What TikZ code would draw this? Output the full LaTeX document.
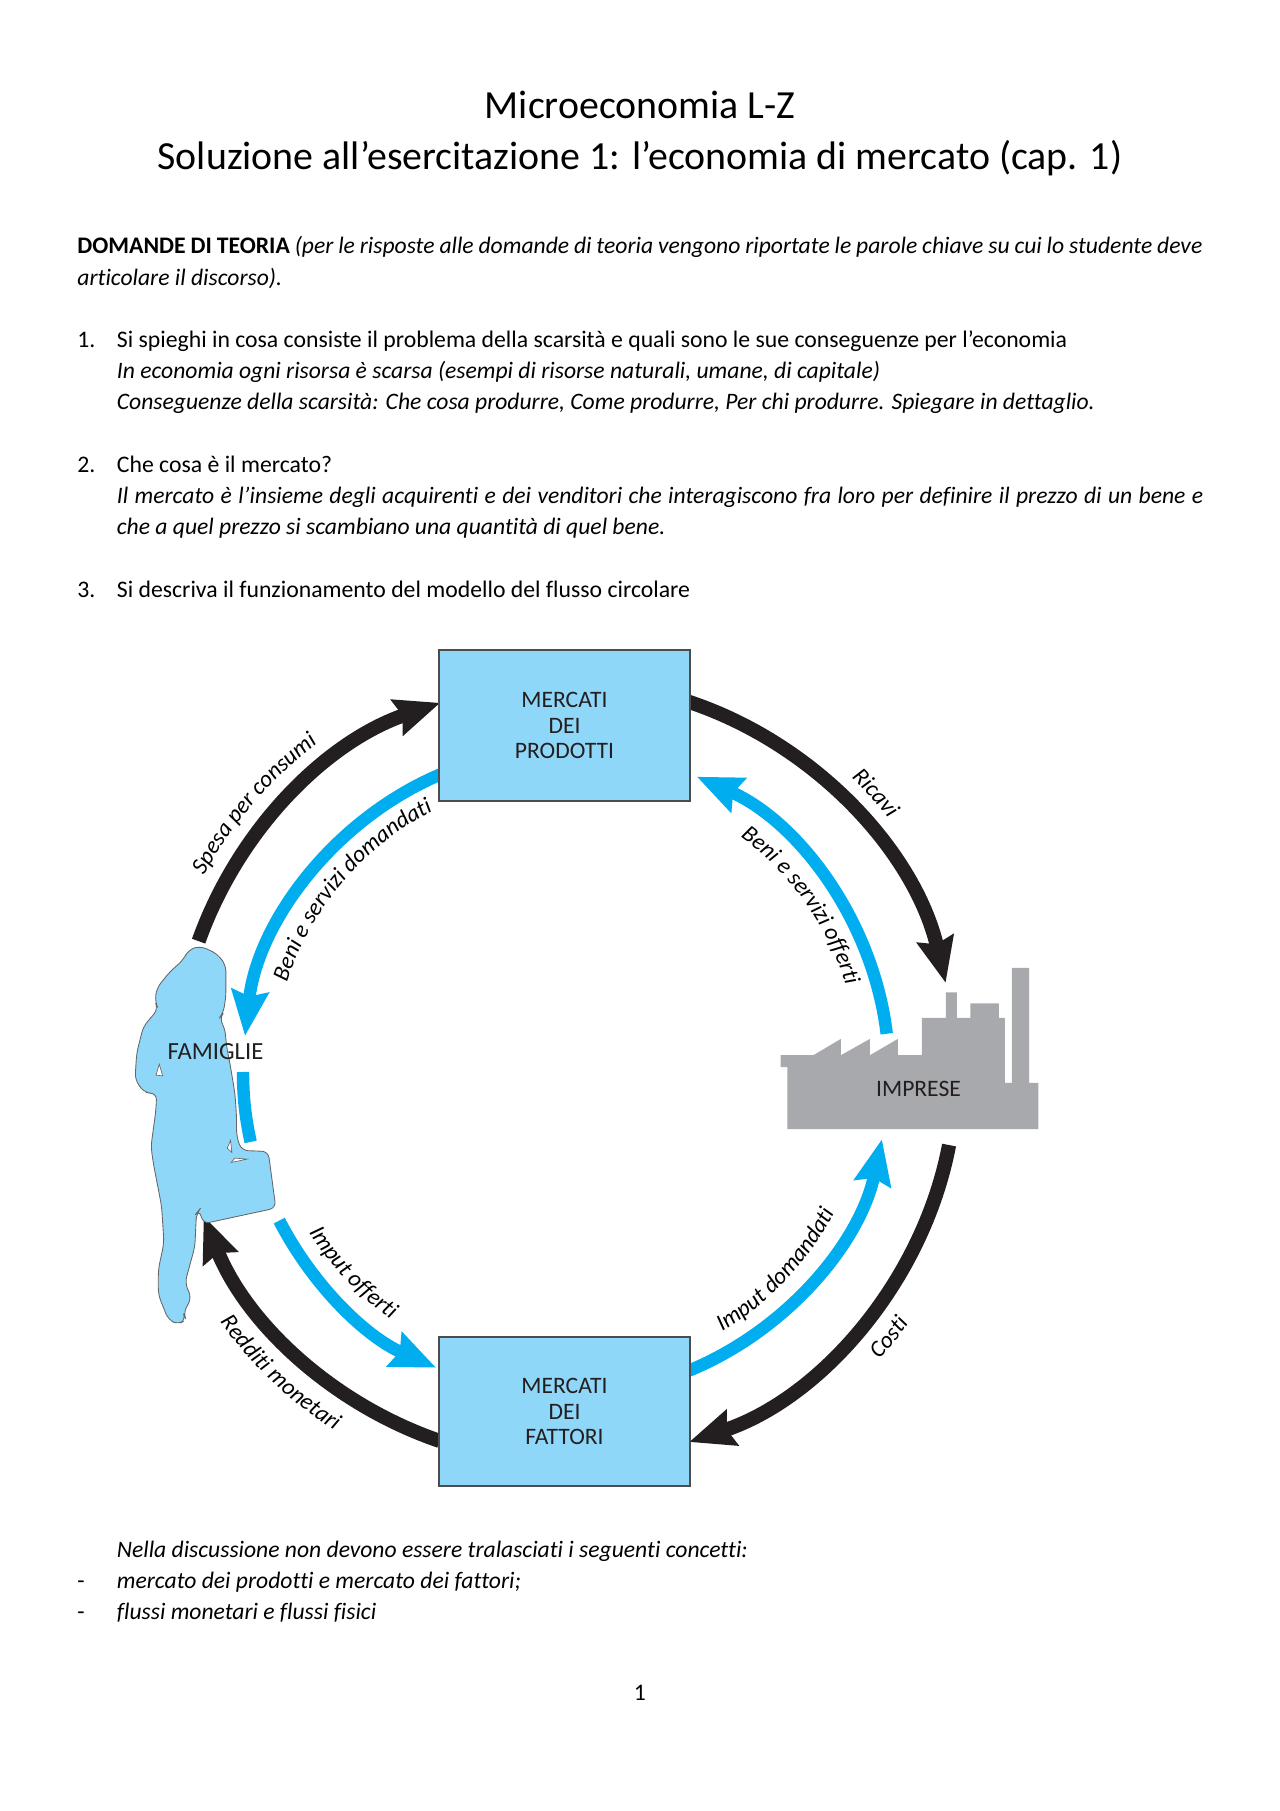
\documentclass[tikz,border=0pt]{standalone}
\usepackage{fontspec}
\setmainfont{Carlito}[Ligatures=NoCommon, ItalicFeatures={Scale=0.994}]
\usetikzlibrary{arrows.meta,calc,decorations.text}
\definecolor{azzurro}{HTML}{8FD7F9}
\definecolor{ciano}{HTML}{00AEEF}
\definecolor{nero}{HTML}{231F20}
\definecolor{grigio}{HTML}{A7A9AC}
\tikzset{
  riga/.style={anchor=base west, inner sep=0pt, font=\fontsize{11.08}{13}\selectfont},
  titolo/.style={anchor=base, inner sep=0pt, font=\fontsize{18.6}{24}\selectfont},
  mercato/.style={draw=black!70, line width=0.5pt, fill=azzurro, minimum width=251*0.4668pt, align=center, text=nero, font=\fontsize{11}{11.7}\selectfont},
  scritta/.style={inner sep=0pt, text=nero, font=\fontsize{11}{12}\selectfont},
  flussonero/.style={line width=6.6pt, draw=nero, looseness=0.9, -{Stealth[length=21pt, width=17pt, inset=2.5pt]}},
  flussoblu/.style={line width=5.8pt, draw=ciano, looseness=0.9, -{Stealth[length=21pt, width=17pt, inset=2.5pt]}},
  tratto/.style={line width=5.8pt, draw=ciano, looseness=0.9},
  sagoma/.style={fill=azzurro, draw=black!60, line width=0.4pt, rounded corners=3pt},
}
% text along the circle, clockwise or anticlockwise
\newcommand{\etichettaO}[3]{\path[decorate, decoration={text along path, text align=center, text={|\fontsize{11}{13}\selectfont\itshape|#3}}] ($(cerchio)+(#1+30:#2)$) arc[start angle=#1+30, end angle=#1-30, radius=#2];}
\newcommand{\etichettaA}[3]{\path[decorate, decoration={text along path, text align=center, text={|\fontsize{11}{13}\selectfont\itshape|#3}}] ($(cerchio)+(#1-30:#2)$) arc[start angle=#1-30, end angle=#1+30, radius=#2];}

\begin{document}
\begin{tikzpicture}[x=0.0164063cm, y=0.0164063cm]
  \useasboundingbox (0,0) rectangle (1280,1811);

  % Title
  \node[titolo] (tit1) at (640,1692) {Microeconomia L-Z};
  \node[titolo] (tit2) at (640,1641) {Soluzione all’esercitazione 1: l’economia di mercato (cap. 1)};

  % Questions
  \node[riga] (r1) at (77,1557) {\hbox to 525pt{\textbf{DOMANDE DI TEORIA} \textit{(per le risposte alle domande di teoria vengono riportate le parole chiave su cui lo studente deve}}};
  \node[riga] (r2) at (77,1525) {\textit{articolare il discorso).}};
  \node[riga] (n1) at (77,1463) {1.};
  \node[riga] (r3) at (116.5,1463) {Si spieghi in cosa consiste il problema della scarsità e quali sono le sue conseguenze per l’economia};
  \node[riga] (r4) at (116.5,1432) {\textit{In economia ogni risorsa è scarsa (esempi di risorse naturali, umane, di capitale)}};
  \node[riga] (r5) at (116.5,1401) {\textit{Conseguenze della scarsità: Che cosa produrre, Come produrre, Per chi produrre. Spiegare in dettaglio.}};
  \node[riga] (n2) at (77,1338) {2.};
  \node[riga] (r6) at (116.5,1338) {Che cosa è il mercato?};
  \node[riga] (r7) at (116.5,1307) {\hbox to 507pt{\textit{Il mercato è l’insieme degli acquirenti e dei venditori che interagiscono fra loro per definire il prezzo di un bene e}}};
  \node[riga] (r8) at (116.5,1276) {\textit{che a quel prezzo si scambiano una quantità di quel bene.}};
  \node[riga] (n3) at (77,1213) {3.};
  \node[riga] (r9) at (116.5,1213) {Si descriva il funzionamento del modello del flusso circolare};

  % Circle points
  \coordinate (cerchio) at (566,739);
  \foreach \nome/\ang/\rag in {spesaA/160.4/390, spesaB/108.8/390, ricaviA/71.7/390, ricaviB/13.2/390,
      costiA/-10.8/390, costiB/-71.6/390, redditiA/-108.9/390, redditiB/-158.3/390,
      domA/112.9/323, domB/173.6/323, trattoA/180/323, trattoB/192.5/323, offA/207.4/323, offB/246.3/323,
      impA/-67.6/323, impB/-12/323, offrA/6.8/323, offrB/66.1/323}
    \coordinate (\nome) at ($(cerchio)+(\ang:\rag)$);

  % Black flows
  \draw[flussonero] (spesaA) to[bend left=25.8] (spesaB);
  \draw[flussonero] (ricaviA) to[bend left=29.2] (ricaviB);
  \draw[flussonero] (costiA) to[bend left=30.4] (costiB);
  \draw[flussonero] (redditiA) to[bend left=24.7] (redditiB);

  % Blue flows
  \draw[flussoblu] (domA) to[bend right=30.3] (domB);
  \draw[tratto] (trattoA) to[bend right=6.2] (trattoB);
  \draw[flussoblu] (offA) to[bend right=19.4] (offB);
  \draw[flussoblu] (impA) to[bend right=27.8] (impB);
  \draw[flussoblu] (offrA) to[bend right=29.6] (offrB);

  % Markets
  \node[mercato, minimum height=151*0.4668pt] (prodotti) at (564.5,1085.5) {MERCATI\\DEI\\PRODOTTI};
  \node[mercato, minimum height=149*0.4668pt] (fattori) at (564.5,399.5) {MERCATI\\DEI\\FATTORI};

  % Family
  \begin{scope}[shift={(120,881)}, x=0.0054688cm, y=-0.0054688cm]
    \draw[sagoma] (240,48) -- (290,70) -- (318,105) -- (318,200) -- (310,250) -- (298,265) -- (315,295) -- (320,350)
      -- (330,400) -- (345,490) -- (350,560) -- (350,620) -- (365,662) -- (445,665) -- (468,835) -- (250,882)
      -- (238,840) -- (230,850) -- (228,880) -- (225,950) -- (195,1060) -- (215,1105) -- (190,1150) -- (198,1170)
      -- (175,1185) -- (145,1170) -- (115,1095) -- (115,1020) -- (132,940) -- (125,830) -- (100,700) -- (93,650)
      -- (108,540) -- (110,490) -- (75,490) -- (45,450) -- (50,370) -- (70,290) -- (115,237) -- (105,215)
      -- (110,175) -- (150,125) -- (190,90) -- (205,60) -- cycle;
    \draw[fill=white, draw=black!60, line width=0.3pt] (118,403) -- (128,438) -- (108,436) -- cycle;
    \draw[fill=white, draw=black!60, line width=0.3pt] (332,632) -- (336,668) -- (322,655) -- cycle;
    \draw[fill=white, draw=black!60, line width=0.3pt] (382,688) -- (334,698) -- (345,685) -- cycle;
  \end{scope}
  \node[scritta, font=\fontsize{11.5}{12}\selectfont] (famiglie) at (215.5,759) {FAMIGLIE};

  % Firms
  \begin{scope}[shift={(760,871)}, x=0.0054688cm, y=-0.0054688cm]
    \fill[grigio] (62,346) -- (160,346) -- (243,297) -- (243,346) -- (330,297) -- (330,346) -- (414,297) -- (414,346)
      -- (486,346) -- (486,234) -- (558,234) -- (558,157) -- (591,157) -- (591,234) -- (632,234) -- (632,190)
      -- (717,190) -- (717,234) -- (735,234) -- (735,429) -- (756,429) -- (756,84) -- (808,84) -- (808,429)
      -- (836,429) -- (836,568) -- (82,568) -- (82,382) -- (62,382) -- cycle;
  \end{scope}
  \node[scritta] (imprese) at (918.5,722.5) {IMPRESE};

  % Labels on the flows
  \etichettaO{139.3}{412}{Spesa per consumi}
  \etichettaO{139.6}{293}{Beni e servizi domandati}
  \etichettaO{42}{410}{Ricavi}
  \etichettaO{35.3}{293}{Beni e servizi offerti}
  \etichettaA{223.3}{303}{Imput offerti}
  \etichettaA{-43.3}{303}{Imput domandati}
  \etichettaA{226.5}{427}{Redditi monetari}
  \etichettaA{-39.4}{425}{Costi}

  % Closing notes
  \node[riga] (c1) at (116.5,253) {\textit{Nella discussione non devono essere tralasciati i seguenti concetti:}};
  \node[riga] (t1) at (77,222) {-};
  \node[riga] (c2) at (116.5,222) {\textit{mercato dei prodotti e mercato dei fattori;}};
  \node[riga] (t2) at (77,191) {-};
  \node[riga] (c3) at (116.5,191) {\textit{flussi monetari e flussi fisici}};
  \node[riga, anchor=base] (pag) at (640,111) {1};
\end{tikzpicture}
\end{document}
